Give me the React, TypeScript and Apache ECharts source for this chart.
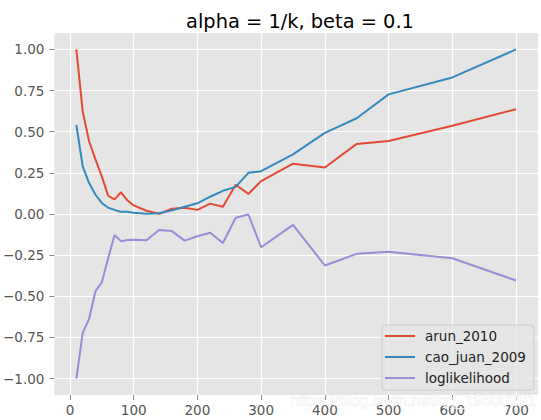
import React, { useEffect, useRef } from "react";
import * as echarts from "echarts";

const xValues = [10, 20, 30, 40, 50, 60, 70, 80, 90, 100, 120, 140, 160, 180, 200, 220, 240, 260, 280, 300, 350, 400, 450, 500, 600, 700];
const arun2010 = [1.0, 0.622, 0.442, 0.332, 0.228, 0.11, 0.089, 0.132, 0.083, 0.052, 0.02, 0.001, 0.032, 0.038, 0.025, 0.063, 0.044, 0.178, 0.122, 0.2, 0.306, 0.283, 0.426, 0.444, 0.536, 0.637];
const caoJuan2009 = [0.541, 0.289, 0.188, 0.117, 0.067, 0.038, 0.025, 0.013, 0.014, 0.008, 0.001, 0.004, 0.022, 0.044, 0.065, 0.105, 0.141, 0.165, 0.25, 0.26, 0.362, 0.493, 0.582, 0.727, 0.83, 1.0];
const loglikelihood = [-1.0, -0.722, -0.637, -0.469, -0.415, -0.268, -0.128, -0.165, -0.158, -0.157, -0.16, -0.097, -0.104, -0.162, -0.135, -0.114, -0.176, -0.023, -0.003, -0.202, -0.066, -0.313, -0.242, -0.23, -0.269, -0.404];

const xTicks = [0, 100, 200, 300, 400, 500, 600, 700];
const yTicks = [-1.0, -0.75, -0.5, -0.25, 0.0, 0.25, 0.5, 0.75, 1.0];

const seriesNames = ["arun_2010", "cao_juan_2009", "loglikelihood"];
const seriesColors = ["#E24A33", "#348ABD", "#988ED5"];
const title = "alpha = 1/k, beta = 0.1";
const watermark = "https://blog.csdn.net/qq_19600291";

const FONT = "DejaVu Sans";

export default function App() {
  const ref = useRef<HTMLDivElement>(null);
  useEffect(() => {
    if (!ref.current) return;
    const chart = echarts.init(ref.current, undefined, { renderer: "svg" });
    const allSeries = [arun2010, caoJuan2009, loglikelihood];
    const option: any = {
      animation: false,
      backgroundColor: "#ffffff",
      title: {
        text: title,
        left: 295,
        top: 7,
        textAlign: "center",
        textStyle: { fontFamily: FONT, fontSize: 19.4, fontWeight: "normal", color: "#000000" },
      },
      grid: { left: 52, top: 33, width: 486, height: 362, containLabel: false, show: true, backgroundColor: "#E5E5E5", borderWidth: 0 },
      xAxis: {
        type: "value",
        min: -24.5,
        max: 734.5,
        axisLine: { show: false, onZero: false },
        axisTick: { show: true, length: 5, inside: false, customValues: xTicks, lineStyle: { color: "#888888", width: 1 } },
        axisLabel: {
          customValues: xTicks,
          margin: 8,
          fontFamily: FONT,
          fontSize: 13.5,
          color: "#555555",
          formatter: (v: number) => String(v).replace("-", "\u2212"),
        },
        splitLine: { show: true, lineStyle: { color: "#ffffff", width: 1.2 } },
      },
      yAxis: {
        type: "value",
        min: -1.1,
        max: 1.1,
        axisLine: { show: false, onZero: false },
        axisTick: { show: true, length: 5, inside: false, customValues: yTicks, lineStyle: { color: "#888888", width: 1 } },
        axisLabel: {
          customValues: yTicks,
          margin: 10,
          fontFamily: FONT,
          fontSize: 13.5,
          color: "#555555",
          formatter: (v: number) => v.toFixed(2).replace("-", "\u2212"),
        },
        splitLine: { show: true, lineStyle: { color: "#ffffff", width: 1.2 } },
      },
      legend: {
        orient: "vertical",
        left: 382,
        top: 325,
        width: 148,
        padding: [4, 8, 5, 3],
        itemGap: 7,
        itemWidth: 30,
        itemHeight: 2,
        icon: "rect",
        backgroundColor: "rgba(229,229,229,0.8)",
        borderColor: "#cccccc",
        borderWidth: 1,
        borderRadius: 3,
        data: seriesNames,
        textStyle: { fontFamily: FONT, fontSize: 13.5, color: "#222222", lineHeight: 14, padding: [0, 0, 0, 5] },
      },
      graphic: [
        {
          type: "text",
          left: 290,
          top: 392,
          z: 100,
          style: {
            text: watermark,
            font: "16px 'Liberation Sans'",
            fill: "rgba(255,255,255,0.85)",
            stroke: "rgba(160,160,160,0.35)",
            lineWidth: 0.6,
          },
        },
      ],
      series: seriesNames.map((name, i) => ({
        name,
        type: "line",
        data: xValues.map((x, j) => [x, allSeries[i][j]]),
        showSymbol: false,
        symbol: "none",
        lineStyle: { color: seriesColors[i], width: 2 },
        itemStyle: { color: seriesColors[i] },
      })),
    };
    chart.setOption(option);
    return () => chart.dispose();
  }, []);
  return <div ref={ref} style={{ position: "fixed", left: 0, top: 0, width: 541, height: 420 }} />;
}
